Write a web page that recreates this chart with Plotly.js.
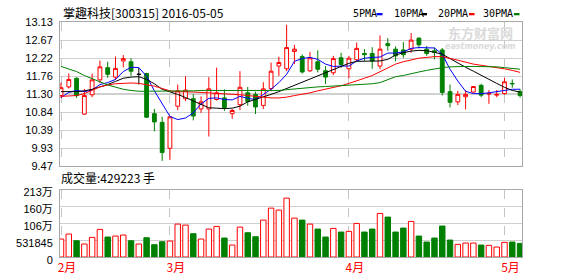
<!DOCTYPE html>
<html><head><meta charset="utf-8">
<script src="https://cdn.plot.ly/plotly-3.0.1.min.js"></script>
<style>html,body{margin:0;padding:0;background:#fff;} #chart{width:578px;height:276px;}</style>
</head><body><div id="chart"></div>
<script>
const stockName = '掌趣科技';
const stockCode = '300315';
const dates = ['2016-02-03','2016-02-04','2016-02-05','2016-02-15','2016-02-16','2016-02-17','2016-02-18','2016-02-19','2016-02-22','2016-02-23','2016-02-24','2016-02-25','2016-02-26','2016-02-29',
'2016-03-01','2016-03-02','2016-03-03','2016-03-04','2016-03-07','2016-03-08','2016-03-09','2016-03-10','2016-03-11','2016-03-14','2016-03-15','2016-03-16','2016-03-17','2016-03-18','2016-03-21','2016-03-22','2016-03-23','2016-03-24','2016-03-25','2016-03-28','2016-03-29','2016-03-30','2016-03-31',
'2016-04-01','2016-04-05','2016-04-06','2016-04-07','2016-04-08','2016-04-11','2016-04-12','2016-04-13','2016-04-14','2016-04-15','2016-04-18','2016-04-19','2016-04-20','2016-04-21','2016-04-22','2016-04-25','2016-04-26','2016-04-27','2016-04-28','2016-04-29',
'2016-05-03','2016-05-04','2016-05-05'];
const openP  = [11.26,11.48,11.70,10.79,11.28,11.66,11.97,11.73,12.14,12.12, 11.80,11.82,10.80,10.58,9.92,10.99,11.18,11.18,10.92,10.92, 11.16,11.20,10.80,11.03,11.33,11.29,11.01,11.44,12.01,11.94, 12.38,12.25,11.89,12.12,11.89,11.84,12.22,11.94,12.17,12.33, 12.33,12.01,12.58,12.44,12.42,12.44,12.72,12.44,12.40,12.42, 11.36,11.10,11.23,11.35,11.52,11.30,11.27,11.31,11.57,11.36];
const highP  = [11.59,11.82,11.72,11.43,11.82,12.15,12.12,12.25,12.29,12.21, 11.97,11.84,10.92,10.72,10.74,11.54,11.75,11.30,11.24,11.73, 11.97,11.42,10.92,11.88,11.48,11.36,11.60,12.10,12.25,13.06, 12.55,12.31,12.37,12.41,12.01,12.27,12.35,12.27,12.61,12.44, 12.49,12.79,12.72,12.51,12.62,12.85,12.74,12.52,12.48,12.47, 11.54,11.38,11.39,11.50,11.56,11.40,11.40,11.71,11.67,11.43];
const lowP   = [11.20,11.44,11.20,10.77,11.22,11.58,11.71,11.66,11.98,11.76, 11.54,10.69,10.35,9.60,9.62,10.89,11.12,10.63,10.82,10.22, 11.13,10.87,10.67,10.89,11.00,10.79,10.92,11.37,11.76,11.88, 12.06,11.82,11.86,11.85,11.55,11.78,11.97,11.70,12.13,12.14, 11.94,11.93,12.40,12.13,12.22,12.35,12.46,12.27,12.18,11.26, 10.96,11.02,10.91,11.33,11.22,11.05,11.22,11.28,11.46,11.21];
const closeP = [11.46,11.67,11.26,11.26,11.66,11.99,11.80,11.95,12.20,11.88, 11.80,10.71,10.59,9.81,10.72,11.38,11.40,10.74,11.10,11.43, 11.33,10.96,10.88,11.47,11.11,10.97,11.43,11.88,12.10,12.48, 12.44,11.86,12.22,11.93,11.73,12.20,12.05,12.21,12.46,12.30, 12.14,12.44,12.53,12.27,12.30,12.67,12.55,12.33,12.36,11.34, 11.09,11.29,11.29,11.49,11.27,11.31,11.29,11.61,11.56,11.26];
const volume = [566000,723000,513000,409000,618000,870000,629000,660000,692000,513000, 409000,608000,388000,482000,503000,1037000,1006000,734000,566000,880000, 964000,597000,377000,943000,765000,639000,1163000,1541000,1478000,1855000, 1226000,1163000,1037000,880000,629000,901000,786000,807000,1058000,786000, 880000,1373000,1258000,786000,912000,1121000,660000,472000,597000,975000, 534000,398000,440000,440000,377000,367000,314000,461000,472000,429223];
const ma5  = [11.21,11.34,11.39,11.36,11.40,11.54,11.59,11.67,11.87,11.98, 11.97,11.75,11.38,11.04,10.73,10.65,10.69,10.82,11.05,11.19, 11.20,11.16,11.15,11.24,11.19,11.16,11.29,11.42,11.59,11.80, 12.13,12.20,12.23,12.18,12.06,12.00,12.01,12.01,12.14,12.21, 12.23,12.24,12.34,12.34,12.37,12.46,12.48,12.47,12.47,12.31, 11.93,11.63,11.37,11.31,11.31,11.33,11.36,11.39,11.42,11.42];
const ma10 = [11.36,11.36,11.36,11.38,11.42,11.48,11.54,11.62,11.70,11.73, 11.74,11.67,11.56,11.42,11.36,11.29,11.21,11.12,11.03,10.95, 10.94,10.93,10.94,10.99,11.10,11.16,11.22,11.29,11.36,11.44, 11.52,11.60,11.68,11.76,11.84,11.93,12.01,12.08,12.13,12.13, 12.14,12.14,12.18,12.29,12.35,12.39,12.41,12.40,12.36,12.31, 12.20,12.08,11.98,11.88,11.77,11.67,11.57,11.47,11.39,11.35];
const ma20 = [11.24,11.25,11.26,11.31,11.40,11.48,11.53,11.56,11.57,11.58, 11.57,11.54,11.50,11.44,11.38,11.36,11.36,11.35,11.34,11.33, 11.32,11.31,11.29,11.28,11.26,11.24,11.22,11.20,11.20,11.22, 11.26,11.29,11.33,11.38,11.42,11.47,11.51,11.57,11.63,11.70, 11.77,11.86,11.95,12.06,12.12,12.17,12.21,12.23,12.25,12.25, 12.21,12.16,12.11,12.06,12.03,12.00,11.98,11.94,11.90,11.85];
const ma30 = [12.00,11.94,11.87,11.77,11.68,11.61,11.53,11.47,11.42,11.39, 11.37,11.37,11.37,11.37,11.38,11.38,11.38,11.38,11.39,11.39, 11.39,11.40,11.40,11.40,11.40,11.40,11.40,11.40,11.39,11.41, 11.43,11.45,11.47,11.48,11.49,11.50,11.52,11.53,11.54,11.54, 11.56,11.59,11.66,11.74,11.77,11.82,11.86,11.90,11.94,11.97, 11.99,12.00,12.00,12.00,12.00,11.99,11.99,11.97,11.95,11.93];
const maNames = ['5PMA','10PMA','20PMA','30PMA'];
const priceTicks = [9.47,9.9275,10.385,10.8425,11.30,11.7575,12.215,12.6725,13.13];
const priceTickLabels = ['9.47','9.93','10.39','10.84','11.30','11.76','12.22','12.67','13.13'];
const volTicks = [0,531845,1063690,1595535,2127380];
const volTickLabels = ['0','531845','106万','160万','213万'];
const monthTicks = ['2016-02-03','2016-03-01','2016-04-01','2016-05-03'];
const monthLabels = ['2月','3月','4月','5月'];

// ---- styling / layout helpers ----
const RED='#ff0000', GREEN='#008000', BLUE='#0000ff', BLACK='#000000';
const maColors=[BLUE,BLACK,RED,GREEN];
const L=60, R=522, T=22, B=257;
const px = x => (x-L)/(R-L);
const py = y => (B-y)/(B-T);
const FONT='Liberation Sans, Noto Sans CJK SC, sans-serif';
const CJK='Noto Sans CJK SC, sans-serif';

const idxMove=[], idxFlat=[];
dates.forEach((d,i)=>{ (openP[i]===closeP[i]?idxFlat:idxMove).push(i); });
const pick=(arr,idx)=>idx.map(i=>arr[i]);

const traces=[];
traces.push({type:'candlestick', x:pick(dates,idxMove), open:pick(openP,idxMove), high:pick(highP,idxMove), low:pick(lowP,idxMove), close:pick(closeP,idxMove),
  xaxis:'x', yaxis:'y', whiskerwidth:0, hoverinfo:'skip',
  increasing:{line:{color:RED,width:1},fillcolor:'#ffffff'},
  decreasing:{line:{color:GREEN,width:1},fillcolor:GREEN}});
if(idxFlat.length) traces.push({type:'candlestick', x:pick(dates,idxFlat), open:pick(openP,idxFlat), high:pick(highP,idxFlat), low:pick(lowP,idxFlat), close:pick(closeP,idxFlat),
  xaxis:'x', yaxis:'y', whiskerwidth:0, hoverinfo:'skip',
  increasing:{line:{color:BLACK,width:1},fillcolor:BLACK},
  decreasing:{line:{color:BLACK,width:1},fillcolor:BLACK}});
[ma5,ma10,ma20,ma30].forEach((m,k)=>traces.push({type:'scatter',mode:'lines',x:dates,y:m,xaxis:'x',yaxis:'y',
  line:{color:maColors[k],width:1},hoverinfo:'skip'}));
const up = dates.map((d,i)=>closeP[i]>=openP[i]);
traces.push({type:'bar', x:dates, y:volume, xaxis:'x2', yaxis:'y2', hoverinfo:'skip',
  marker:{color:up.map(u=>u?'#ffffff':GREEN), line:{color:up.map(u=>u?RED:GREEN), width:1}}});

const xcommon={type:'category', categoryorder:'array', categoryarray:dates, range:[-0.13,59.25],
  tickmode:'array', tickvals:monthTicks, ticktext:monthLabels, ticks:'',
  showgrid:true, gridcolor:'#c4c4c4', griddash:'dash', gridwidth:1, rangeslider:{visible:false},
  showline:true, linecolor:'#a8a8a8', linewidth:1, mirror:true, zeroline:false, fixedrange:true};
const layout={
  width:578, height:276, margin:{l:L, r:578-R, t:T, b:276-B, pad:0},
  paper_bgcolor:'#ffffff', plot_bgcolor:'#ffffff', showlegend:false, bargap:0.3, hovermode:false,
  font:{family:FONT, size:11, color:'#000'},
  xaxis:Object.assign({}, xcommon, {anchor:'y', showticklabels:false}),
  xaxis2:Object.assign({}, xcommon, {anchor:'y2', showticklabels:true, ticklabelshift:6,
     tickfont:{family:CJK, size:12, color:RED}}),
  yaxis:{domain:[py(166),1], range:[priceTicks[0],priceTicks[priceTicks.length-1]], tickmode:'array', tickvals:priceTicks, ticktext:priceTickLabels,
     ticks:'', ticklabelstandoff:4, showgrid:true, gridcolor:'#cfcfcf', showline:true, linecolor:'#a8a8a8', mirror:true, zeroline:false, fixedrange:true,
     tickfont:{family:FONT,size:11}},
  yaxis2:{domain:[0,py(189.5)], range:[volTicks[0],volTicks[volTicks.length-1]], tickmode:'array', tickvals:volTicks, ticktext:volTickLabels,
     ticks:'', ticklabelstandoff:4, ticklabelshift:3, showgrid:true, gridcolor:'#cfcfcf', showline:true, linecolor:'#a8a8a8', mirror:true, zeroline:false, fixedrange:true,
     tickfont:{family:FONT,size:11}},
  shapes:[{type:'line', xref:'paper', yref:'y', x0:0, x1:1, y0:priceTicks[4], y1:priceTicks[4], line:{color:'#a0a0a0',width:1}, layer:'below'}],
  annotations:[
    {text:stockName+'['+stockCode+'] '+dates[dates.length-1], xref:'paper', yref:'paper', x:px(61), y:py(12.5), xanchor:'left', yanchor:'middle', showarrow:false, font:{family:CJK,size:12,color:'#000'}},
    {text:'成交量:'+volume[volume.length-1]+' 手', xref:'paper', yref:'paper', x:px(59), y:py(177), xanchor:'left', yanchor:'middle', showarrow:false, font:{family:CJK,size:12,color:'#000'}},
    {text:'<b>东方财富网</b>', xref:'paper', yref:'paper', x:px(480), y:py(33), xanchor:'center', yanchor:'middle', showarrow:false, borderpad:0, font:{family:CJK,size:13,color:'#dadada'}},
    {text:'<b><i>eastmoney.com</i></b>', xref:'paper', yref:'paper', x:px(480), y:py(46.5), xanchor:'center', yanchor:'middle', showarrow:false, borderpad:0, font:{family:'DejaVu Sans, sans-serif',size:8,color:'#dadada'}}
  ]
};
const legX=[351, 392, 436, 481], dashX=[[376.5,382.5],[421.5,427],[469,474.5],[514,519.5]];
maNames.forEach((n,k)=>{
  layout.annotations.push({text:n, xref:'paper', yref:'paper', x:px(legX[k]), y:py(14), xanchor:'left', yanchor:'middle', showarrow:false, font:{family:'DejaVu Sans Mono, monospace',size:10,color:'#000'}});
  layout.shapes.push({type:'rect', xref:'paper', yref:'paper', x0:px(dashX[k][0]), x1:px(dashX[k][1]), y0:py(15.3), y1:py(13), fillcolor:maColors[k], line:{width:0}});
});
Plotly.newPlot('chart', traces, layout, {staticPlot:true, displayModeBar:false});
</script></body></html>
